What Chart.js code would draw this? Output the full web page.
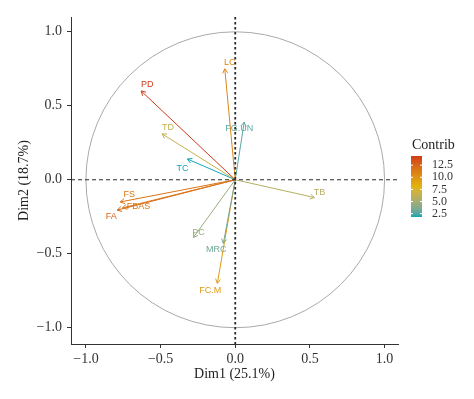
<!DOCTYPE html>
<html>
<head>
<meta charset="utf-8">
<script src="https://cdn.jsdelivr.net/npm/chart.js@4.4.1/dist/chart.umd.min.js"></script>
<style>
  html, body { margin: 0; padding: 0; background: #fff; }
  canvas { display: block; }
</style>
</head>
<body>
<canvas id="pca" width="474" height="399"></canvas>
<script>
const variables = ['PD', 'LC', 'TD', 'FG.UN', 'TC', 'FS', 'FBAS', 'FA', 'PC', 'MRC', 'FC.M', 'TB'];
const dim1 = [-0.63, -0.07, -0.49, 0.06, -0.32, -0.77, -0.755, -0.79, -0.28, -0.08, -0.12, 0.53];
const dim2 = [0.60, 0.75, 0.31, 0.39, 0.14, -0.15, -0.19, -0.205, -0.39, -0.43, -0.70, -0.12];
const contrib = [14.4, 10.8, 6.4, 2.6, 1.8, 11.7, 11.5, 12.6, 4.4, 3.2, 9.6, 5.6];
const axisTicks = [-1.0, -0.5, 0.0, 0.5, 1.0];
const legendTicks = [2.5, 5.0, 7.5, 10.0, 12.5];

// label nudge (px) from the arrow tip, like ggrepel did it
const labelNudge = [[6, -6], [5, -6], [6, -6], [-5, 6], [-5, 9], [9, -7], [16, -1], [-6, 6], [5, -5], [-7, 6], [-7, 7], [5, -5]];

const gradientCols = ['#10A6B4', '#E2B40C', '#D03A18'];
const serif = '"Liberation Serif", "DejaVu Serif", serif';
const sans = '"Liberation Sans", Arial, sans-serif';

// ggplot interpolates the colour ramp in CIELAB, so do the same
const WX = 0.95047, WY = 1, WZ = 1.08883;
function toLin(c) { c /= 255; return c <= 0.04045 ? c / 12.92 : Math.pow((c + 0.055) / 1.055, 2.4); }
function toSrgb(c) {
  c = c <= 0.0031308 ? 12.92 * c : 1.055 * Math.pow(c, 1 / 2.4) - 0.055;
  return Math.round(Math.max(0, Math.min(1, c)) * 255);
}
function f(t) { return t > 0.008856 ? Math.cbrt(t) : 7.787 * t + 16 / 116; }
function finv(t) { return t > 0.206893 ? t * t * t : (t - 16 / 116) / 7.787; }
function toLab(hex) {
  const r = toLin(parseInt(hex.slice(1, 3), 16));
  const g = toLin(parseInt(hex.slice(3, 5), 16));
  const b = toLin(parseInt(hex.slice(5, 7), 16));
  const fx = f((0.4124 * r + 0.3576 * g + 0.1805 * b) / WX);
  const fy = f((0.2126 * r + 0.7152 * g + 0.0722 * b) / WY);
  const fz = f((0.0193 * r + 0.1192 * g + 0.9505 * b) / WZ);
  return [116 * fy - 16, 500 * (fx - fy), 200 * (fy - fz)];
}
function fromLab([L, a, bb]) {
  const fy = (L + 16) / 116;
  const x = finv(fy + a / 500) * WX, y = finv(fy) * WY, z = finv(fy - bb / 200) * WZ;
  const r = 3.2406 * x - 1.5372 * y - 0.4986 * z;
  const g = -0.9689 * x + 1.8758 * y + 0.0415 * z;
  const b = 0.0557 * x - 0.2040 * y + 1.0570 * z;
  return `rgb(${toSrgb(r)},${toSrgb(g)},${toSrgb(b)})`;
}
const labStops = gradientCols.map(toLab);
const cMin = Math.min(...contrib);
const cMax = Math.max(...contrib);

function colorFor(v) {
  const t = Math.max(0, Math.min(1, (v - cMin) / (cMax - cMin))) * (labStops.length - 1);
  const i = Math.min(Math.floor(t), labStops.length - 2);
  const k = t - i;
  const a = labStops[i], b = labStops[i + 1];
  return fromLab([0, 1, 2].map((j) => a[j] + (b[j] - a[j]) * k));
}

function fmtTick(v) {
  return (v < 0 ? '\u2212' : '') + Math.abs(v).toFixed(1);
}

const pcaDecor = {
  id: 'pcaDecor',
  beforeDatasetsDraw(chart) {
    const { ctx, chartArea, scales: { x, y } } = chart;
    const cx = x.getPixelForValue(0);
    const cy = y.getPixelForValue(0);
    ctx.save();
    ctx.beginPath();
    ctx.rect(chartArea.left, chartArea.top, chartArea.width, chartArea.height);
    ctx.clip();
    ctx.beginPath();
    ctx.ellipse(cx, cy, x.getPixelForValue(1) - cx, cy - y.getPixelForValue(1), 0, 0, 2 * Math.PI);
    ctx.strokeStyle = '#a9a9a9';
    ctx.lineWidth = 1;
    ctx.stroke();
    ctx.restore();
  },
  afterDatasetsDraw(chart) {
    const { ctx, chartArea, scales: { x, y } } = chart;
    const cx = x.getPixelForValue(0);
    const cy = y.getPixelForValue(0);
    ctx.save();

    // arrow heads + labels
    variables.forEach((name, i) => {
      const px = x.getPixelForValue(dim1[i]);
      const py = y.getPixelForValue(dim2[i]);
      const col = colorFor(contrib[i]);
      const ang = Math.atan2(py - cy, px - cx);
      ctx.strokeStyle = col;
      ctx.lineWidth = 1;
      ctx.beginPath();
      ctx.moveTo(px + 5 * Math.cos(ang + Math.PI - Math.PI / 6), py + 5 * Math.sin(ang + Math.PI - Math.PI / 6));
      ctx.lineTo(px, py);
      ctx.lineTo(px + 5 * Math.cos(ang + Math.PI + Math.PI / 6), py + 5 * Math.sin(ang + Math.PI + Math.PI / 6));
      ctx.stroke();

      ctx.fillStyle = col;
      ctx.font = `9px ${sans}`;
      ctx.textAlign = 'center';
      ctx.textBaseline = 'middle';
      ctx.fillText(name, px + labelNudge[i][0], py + labelNudge[i][1]);
    });

    // dashed zero lines
    ctx.strokeStyle = '#2a2a2a';
    ctx.lineWidth = 1.2;
    ctx.setLineDash([4, 3]);
    ctx.beginPath();
    ctx.moveTo(chartArea.left, cy);
    ctx.lineTo(chartArea.right, cy);
    ctx.stroke();
    ctx.lineWidth = 1.8;
    ctx.setLineDash([2.5, 2.5]);
    ctx.beginPath();
    ctx.moveTo(cx, chartArea.top);
    ctx.lineTo(cx, chartArea.bottom);
    ctx.stroke();
    ctx.restore();
  },
  afterDraw(chart) {
    const { ctx } = chart;
    const barX = 411, barW = 11, barTop = 156, barBottom = 217;
    ctx.save();
    const grad = ctx.createLinearGradient(0, barBottom, 0, barTop);
    for (let s = 0; s <= 20; s++) {
      grad.addColorStop(s / 20, colorFor(cMin + (s / 20) * (cMax - cMin)));
    }
    ctx.fillStyle = grad;
    ctx.fillRect(barX, barTop, barW, barBottom - barTop);

    ctx.fillStyle = '#222';
    ctx.font = `14px ${serif}`;
    ctx.textAlign = 'left';
    ctx.textBaseline = 'middle';
    ctx.fillText('Contrib', barX + 1, 145);

    ctx.font = `12px ${serif}`;
    ctx.fillStyle = '#333';
    legendTicks.forEach((v) => {
      const ty = barBottom - ((v - cMin) / (cMax - cMin)) * (barBottom - barTop);
      ctx.fillText(v.toFixed(1), barX + 21, ty);
      ctx.strokeStyle = '#fff';
      ctx.lineWidth = 1;
      ctx.beginPath();
      ctx.moveTo(barX, ty); ctx.lineTo(barX + 2, ty);
      ctx.moveTo(barX + barW - 2, ty); ctx.lineTo(barX + barW, ty);
      ctx.stroke();
    });
    ctx.restore();
  },
};

const datasets = variables.map((name, i) => ({
  label: name,
  data: [{ x: 0, y: 0 }, { x: dim1[i], y: dim2[i] }],
  borderColor: colorFor(contrib[i]),
  borderWidth: 1,
  pointRadius: 0,
  showLine: true,
  fill: false,
}));

const tickFont = { family: serif, size: 14 };

new Chart(document.getElementById('pca').getContext('2d'), {
  type: 'scatter',
  data: { datasets },
  options: {
    responsive: false,
    animation: false,
    layout: { padding: { left: 0, right: 76, top: 17, bottom: 0 } },
    plugins: { legend: { display: false }, tooltip: { enabled: false } },
    scales: {
      x: {
        type: 'linear',
        min: -1.1,
        max: 1.09,
        afterBuildTicks: (s) => { s.ticks = axisTicks.map((v) => ({ value: v })); },
        afterFit: (s) => { s.height = 55; },
        grid: { drawOnChartArea: false, drawTicks: true, tickLength: 4, color: '#333' },
        border: { display: true, color: '#333', width: 1 },
        ticks: { font: tickFont, color: '#333', padding: 3, maxRotation: 0, autoSkip: false, callback: fmtTick },
        title: { display: true, text: 'Dim1 (25.1%)', font: { family: serif, size: 14 }, color: '#222', padding: { top: 0, bottom: 16 } },
      },
      y: {
        type: 'linear',
        min: -1.11,
        max: 1.1,
        afterBuildTicks: (s) => { s.ticks = axisTicks.map((v) => ({ value: v })); },
        afterFit: (s) => { s.width = 71; },
        grid: { drawOnChartArea: false, drawTicks: true, tickLength: 4, color: '#333' },
        border: { display: true, color: '#333', width: 1 },
        ticks: { font: tickFont, color: '#333', padding: 5, autoSkip: false, callback: fmtTick },
        title: { display: true, text: 'Dim2 (18.7%)', font: { family: serif, size: 14 }, color: '#222', padding: { top: 16, bottom: 0 } },
      },
    },
  },
  plugins: [pcaDecor],
});
</script>
</body>
</html>
